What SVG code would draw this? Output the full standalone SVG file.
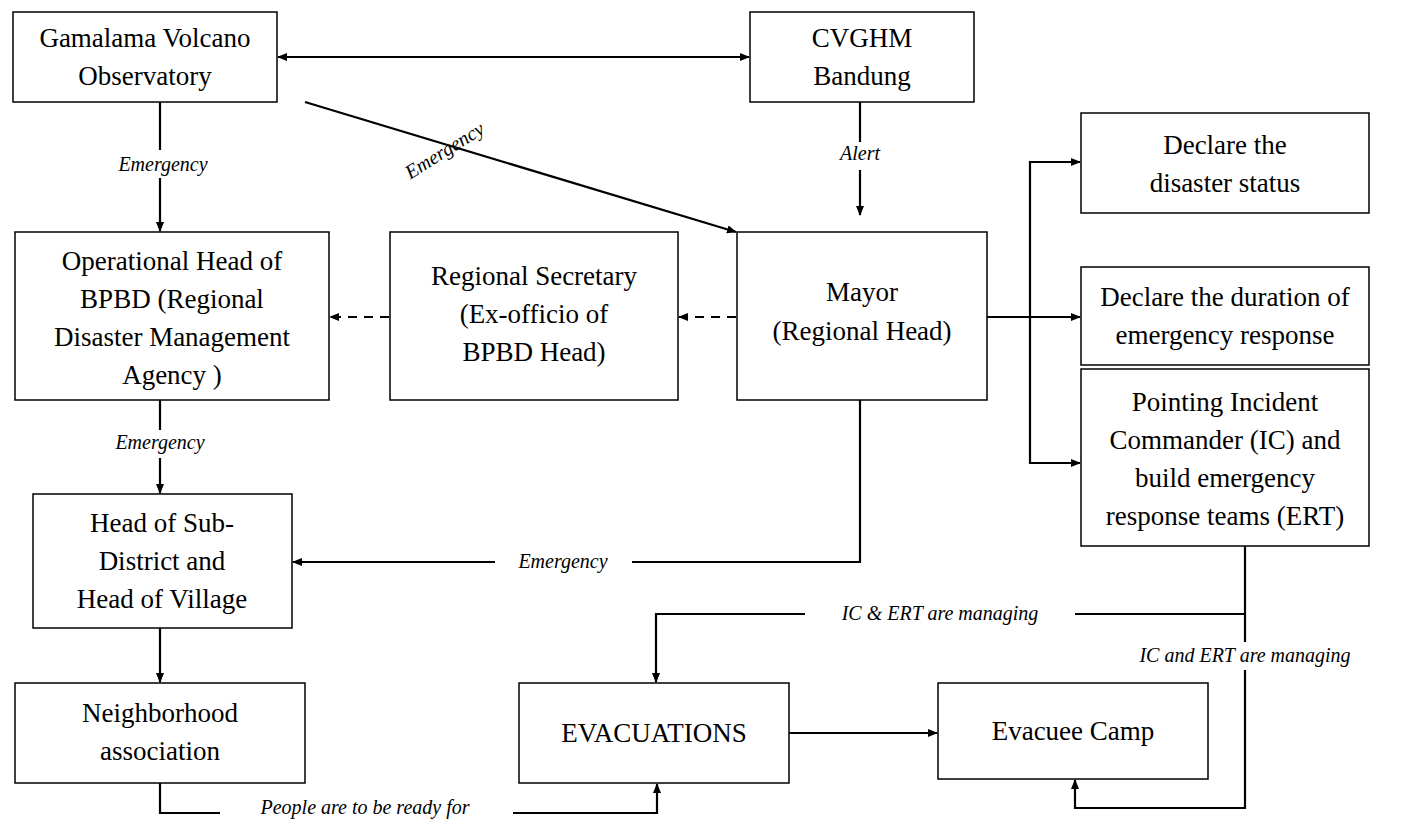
<svg xmlns="http://www.w3.org/2000/svg" width="1421" height="838" viewBox="0 0 1421 838">
<style>
.b{fill:#fff;stroke:#000;stroke-width:1.5}
.t{font-family:"Liberation Serif",serif;font-size:27px;text-anchor:middle;fill:#000}
.l{font-family:"Liberation Serif",serif;font-size:20px;font-style:italic;text-anchor:middle;fill:#000}
.c{fill:none;stroke:#000;stroke-width:2.2}
.d{stroke-dasharray:9,7}
.w{fill:#fff}
</style>
<defs>
<marker id="a" markerWidth="10" markerHeight="10" refX="9" refY="5" orient="auto-start-reverse" markerUnits="userSpaceOnUse"><path d="M0,1 L10,5 L0,9 z" fill="#000"/></marker>
</defs>
<rect width="1421" height="838" fill="#fff"/>
<g id="connectors">
<path class="c" d="M278,57 H749" marker-start="url(#a)" marker-end="url(#a)"/>
<path class="c" d="M160,102 V231" marker-end="url(#a)"/>
<path class="c" d="M305,102 L736,232" marker-end="url(#a)"/>
<path class="c" d="M860,102 V215" marker-end="url(#a)"/>
<path class="c d" d="M736,317 H679" marker-end="url(#a)"/>
<path class="c d" d="M389,317 H330" marker-end="url(#a)"/>
<path class="c" d="M987,317 H1080" marker-end="url(#a)"/>
<path class="c" d="M1030,317 V162 H1080" marker-end="url(#a)"/>
<path class="c" d="M1030,317 V463 H1080" marker-end="url(#a)"/>
<path class="c" d="M860,400 V562 H632"/>
<path class="c" d="M495,562 H293" marker-end="url(#a)"/>
<path class="c" d="M160,400 V493" marker-end="url(#a)"/>
<path class="c" d="M160,628 V682" marker-end="url(#a)"/>
<path class="c" d="M160,783 V813 H220"/>
<path class="c" d="M513,813 H657 V784" marker-end="url(#a)"/>
<path class="c" d="M789,733 H937" marker-end="url(#a)"/>
<path class="c" d="M1245,546 V808 H1075 V780" marker-end="url(#a)"/>
<path class="c" d="M1245,614 H1075"/>
<path class="c" d="M805,614 H656 V682" marker-end="url(#a)"/>
<rect class="w" x="108" y="150" width="110" height="28"/>
<rect class="w" x="835" y="142" width="50" height="28"/>
<rect class="w" x="106" y="430" width="110" height="28"/>
<rect class="w" x="1105" y="642" width="280" height="28"/>
<text class="l" x="163" y="171">Emergency</text>
<text class="l" transform="translate(448,156) rotate(-32)">Emergency</text>
<text class="l" x="860" y="160">Alert</text>
<text class="l" x="160" y="449">Emergency</text>
<text class="l" x="563" y="568">Emergency</text>
<text class="l" x="365" y="814">People are to  be ready for</text>
<text class="l" x="940" y="620">IC &amp; ERT are managing</text>
<text class="l" x="1245" y="662">IC and ERT are managing</text>
</g>
<g id="gamalama"><rect class="b" x="13" y="12" width="264" height="90"/><text class="t" x="145" y="47">Gamalama Volcano</text><text class="t" x="145" y="85">Observatory</text></g>
<g id="cvghm"><rect class="b" x="750" y="12" width="224" height="90"/><text class="t" x="862" y="47">CVGHM</text><text class="t" x="862" y="85">Bandung</text></g>
<g id="operational"><rect class="b" x="15" y="232" width="314" height="168"/><text class="t" x="172" y="270">Operational Head of</text><text class="t" x="172" y="308">BPBD (Regional</text><text class="t" x="172" y="346">Disaster Management</text><text class="t" x="172" y="384">Agency )</text></g>
<g id="secretary"><rect class="b" x="390" y="232" width="288" height="168"/><text class="t" x="534" y="285">Regional Secretary</text><text class="t" x="534" y="323">(Ex-officio of</text><text class="t" x="534" y="361">BPBD Head)</text></g>
<g id="mayor"><rect class="b" x="737" y="232" width="250" height="168"/><text class="t" x="862" y="301">Mayor</text><text class="t" x="862" y="340">(Regional Head)</text></g>
<g id="declare1"><rect class="b" x="1081" y="113" width="288" height="100"/><text class="t" x="1225" y="154">Declare the</text><text class="t" x="1225" y="192">disaster status</text></g>
<g id="declare2"><rect class="b" x="1081" y="267" width="288" height="98"/><text class="t" x="1225" y="306">Declare the duration of</text><text class="t" x="1225" y="344">emergency response</text></g>
<g id="pointing"><rect class="b" x="1081" y="369" width="288" height="177"/><text class="t" x="1225" y="411">Pointing Incident</text><text class="t" x="1225" y="449">Commander (IC) and</text><text class="t" x="1225" y="487">build emergency</text><text class="t" x="1225" y="525">response teams (ERT)</text></g>
<g id="subdistrict"><rect class="b" x="33" y="494" width="259" height="134"/><text class="t" x="162" y="532">Head of Sub-</text><text class="t" x="162" y="570">District and</text><text class="t" x="162" y="608">Head of Village</text></g>
<g id="neighborhood"><rect class="b" x="15" y="683" width="290" height="100"/><text class="t" x="160" y="722">Neighborhood</text><text class="t" x="160" y="760">association</text></g>
<g id="evacuations"><rect class="b" x="519" y="683" width="270" height="100"/><text class="t" x="654" y="742">EVACUATIONS</text></g>
<g id="camp"><rect class="b" x="938" y="683" width="270" height="96"/><text class="t" x="1073" y="740">Evacuee Camp</text></g>
</svg>
